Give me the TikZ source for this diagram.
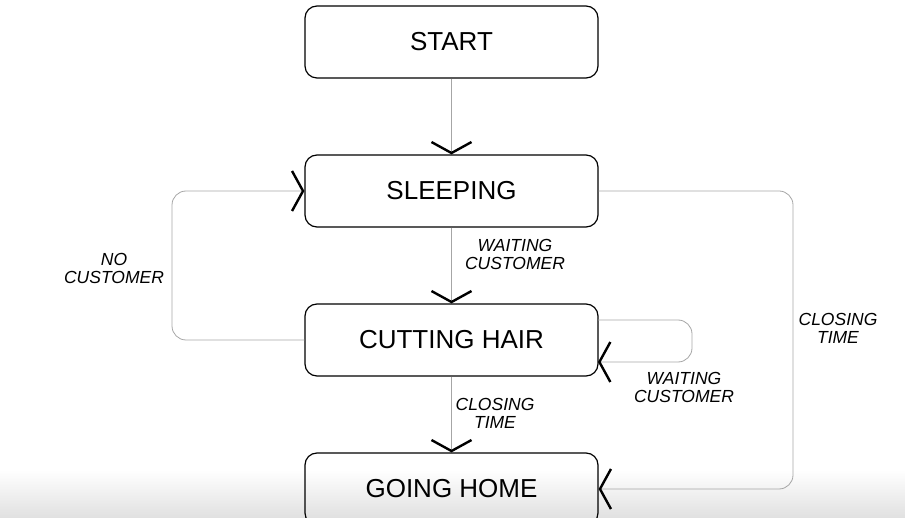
\documentclass[tikz,border=0pt]{standalone}
\usepackage{fontspec}
\setmainfont{Liberation Sans}
\usetikzlibrary{arrows.meta}
\begin{document}
\begin{tikzpicture}[x=1pt,y=-1pt,
  state/.style={draw=black,line width=1.2pt,rounded corners=12pt,minimum width=293pt,minimum height=72pt,font=\fontsize{26}{30}\selectfont,inner sep=0pt},
  conn/.style={draw=black!35,line width=0.8pt,rounded corners=14pt,-{Straight Barb[length=11pt,width=40pt,line width=2.4pt,color=black]}},
  lab/.style={font=\itshape\fontsize{17.5}{18}\selectfont,align=center,inner sep=0pt}]
\useasboundingbox (0,0) rectangle (905,518);
\shade[top color=white,bottom color=black!12] (0,470) rectangle (905,518);
\node[state] (start) at (451.5,42) {START};
\node[state] (sleep) at (451.5,191) {SLEEPING};
\node[state] (cut) at (451.5,340) {CUTTING HAIR};
\node[state,minimum height=72pt] (home) at (451.5,489) {GOING HOME};
\draw[conn] (start) -- (sleep);
\draw[conn] (sleep) -- (cut);
\draw[conn] (cut) -- (home);
\draw[conn] (cut.west) -- (172,340) -- (172,191) -- (sleep.west);
\draw[conn] (sleep.east) -- (793,191) -- (793,489) -- (home.east);
\draw[conn] (598,320) -- (692,320) -- (692,362) -- (598,362);
\node[lab] (l1) at (114,268) {NO\\CUSTOMER};
\node[lab] (l2) at (515,254) {WAITING\\CUSTOMER};
\node[lab] (l3) at (838,328) {CLOSING\\TIME};
\node[lab] (l4) at (684,387) {WAITING\\CUSTOMER};
\node[lab] (l5) at (495,413) {CLOSING\\TIME};
\end{tikzpicture}
\end{document}
